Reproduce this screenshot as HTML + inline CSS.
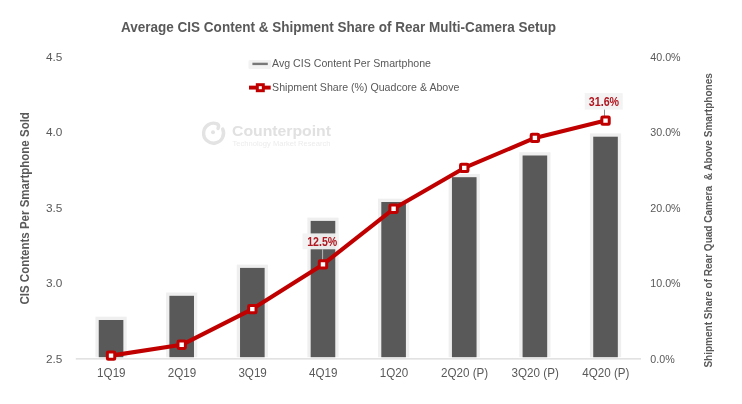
<!DOCTYPE html>
<html><head><meta charset="utf-8"><title>Average CIS Content &amp; Shipment Share of Rear Multi-Camera Setup</title>
<style>
html,body{margin:0;padding:0;background:#fff;}
body{width:742px;height:404px;overflow:hidden;}
svg{display:block;filter:blur(0.35px);}
text{font-family:"Liberation Sans",Arial,sans-serif;}
</style></head><body>
<svg width="742" height="404" viewBox="0 0 742 404">
<defs>
<filter id="glow" x="-50%" y="-50%" width="200%" height="200%"><feGaussianBlur stdDeviation="0.6"/></filter>
<filter id="blur1" x="-20%" y="-20%" width="140%" height="140%"><feGaussianBlur stdDeviation="0.6"/></filter>
</defs>
<rect width="742" height="404" fill="#fff"/>

<text x="121" y="31.5" font-size="14" font-weight="bold" fill="#595959" textLength="435" lengthAdjust="spacingAndGlyphs">Average CIS Content &amp; Shipment Share of Rear Multi-Camera Setup</text>
<g fill="none" stroke="#e3e3e3" opacity="1" filter="url(#blur1)">
<path d="M 222.66 128.97 A 10 10 0 1 1 217.02 123.8 Q 219.6 125.2 218 128.4" stroke-width="3.4" stroke-linecap="round"/>
</g>
<g fill="#e3e3e3" filter="url(#blur1)"><circle cx="213" cy="132.3" r="2"/></g>
<text x="232" y="135.5" font-size="15.3" font-weight="bold" fill="#e1e1e1" textLength="99" lengthAdjust="spacingAndGlyphs" filter="url(#blur1)">Counterpoint</text>
<text x="232.5" y="146" font-size="7" fill="#ececec" textLength="98" lengthAdjust="spacingAndGlyphs" filter="url(#blur1)">Technology Market Research</text>

<line x1="75.8" y1="358.8" x2="641" y2="358.8" stroke="#d9d9d9" stroke-width="1.2"/>
<rect x="95.45" y="316.70" width="31.20" height="40.50" fill="#efefef" filter="url(#glow)"/>
<rect x="166.09" y="292.50" width="31.20" height="64.70" fill="#efefef" filter="url(#glow)"/>
<rect x="236.73" y="264.60" width="31.20" height="92.60" fill="#efefef" filter="url(#glow)"/>
<rect x="307.37" y="217.60" width="31.20" height="139.60" fill="#efefef" filter="url(#glow)"/>
<rect x="378.01" y="198.70" width="31.20" height="158.50" fill="#efefef" filter="url(#glow)"/>
<rect x="448.65" y="173.90" width="31.20" height="183.30" fill="#efefef" filter="url(#glow)"/>
<rect x="519.29" y="152.20" width="31.20" height="205.00" fill="#efefef" filter="url(#glow)"/>
<rect x="589.93" y="133.40" width="31.20" height="223.80" fill="#efefef" filter="url(#glow)"/>
<rect x="98.75" y="320.00" width="24.60" height="37.20" fill="#595959"/>
<rect x="169.39" y="295.80" width="24.60" height="61.40" fill="#595959"/>
<rect x="240.03" y="267.90" width="24.60" height="89.30" fill="#595959"/>
<rect x="310.67" y="220.90" width="24.60" height="136.30" fill="#595959"/>
<rect x="381.31" y="202.00" width="24.60" height="155.20" fill="#595959"/>
<rect x="451.95" y="177.20" width="24.60" height="180.00" fill="#595959"/>
<rect x="522.59" y="155.50" width="24.60" height="201.70" fill="#595959"/>
<rect x="593.23" y="136.70" width="24.60" height="220.50" fill="#595959"/>
<text x="62.4" y="60.6" font-size="11.8" fill="#595959" text-anchor="end">4.5</text>
<text x="62.4" y="136.1" font-size="11.8" fill="#595959" text-anchor="end">4.0</text>
<text x="62.4" y="211.6" font-size="11.8" fill="#595959" text-anchor="end">3.5</text>
<text x="62.4" y="287.1" font-size="11.8" fill="#595959" text-anchor="end">3.0</text>
<text x="62.4" y="362.6" font-size="11.8" fill="#595959" text-anchor="end">2.5</text>
<text x="650.3" y="60.6" font-size="11.2" fill="#595959" textLength="30.33" lengthAdjust="spacingAndGlyphs">40.0%</text>
<text x="650.3" y="136.1" font-size="11.2" fill="#595959" textLength="30.33" lengthAdjust="spacingAndGlyphs">30.0%</text>
<text x="650.3" y="211.6" font-size="11.2" fill="#595959" textLength="30.33" lengthAdjust="spacingAndGlyphs">20.0%</text>
<text x="650.3" y="287.1" font-size="11.2" fill="#595959" textLength="30.33" lengthAdjust="spacingAndGlyphs">10.0%</text>
<text x="650.3" y="362.6" font-size="11.2" fill="#595959" textLength="24.38" lengthAdjust="spacingAndGlyphs">0.0%</text>
<text x="97.11" y="376.9" font-size="12" fill="#595959" textLength="28.47" lengthAdjust="spacingAndGlyphs">1Q19</text>
<text x="167.75" y="376.9" font-size="12" fill="#595959" textLength="28.47" lengthAdjust="spacingAndGlyphs">2Q19</text>
<text x="238.39" y="376.9" font-size="12" fill="#595959" textLength="28.47" lengthAdjust="spacingAndGlyphs">3Q19</text>
<text x="309.03" y="376.9" font-size="12" fill="#595959" textLength="28.47" lengthAdjust="spacingAndGlyphs">4Q19</text>
<text x="379.67" y="376.9" font-size="12" fill="#595959" textLength="28.47" lengthAdjust="spacingAndGlyphs">1Q20</text>
<text x="440.94" y="376.9" font-size="12" fill="#595959" textLength="47.22" lengthAdjust="spacingAndGlyphs">2Q20 (P)</text>
<text x="511.58" y="376.9" font-size="12" fill="#595959" textLength="47.22" lengthAdjust="spacingAndGlyphs">3Q20 (P)</text>
<text x="582.22" y="376.9" font-size="12" fill="#595959" textLength="47.22" lengthAdjust="spacingAndGlyphs">4Q20 (P)</text>
<text transform="translate(28.6,304.5) rotate(-90)" x="0" y="0" font-size="12" font-weight="bold" fill="#595959" textLength="192.4" lengthAdjust="spacingAndGlyphs">CIS Contents Per Smartphone Sold</text>
<text transform="translate(711.9,367.6) rotate(-90)" x="0" y="0" font-size="11" font-weight="bold" fill="#595959" textLength="294.4" lengthAdjust="spacingAndGlyphs" xml:space="preserve">Shipment Share of Rear Quad Camera  &amp; Above Smartphones</text>
<rect x="248.5" y="60" width="22.7" height="8.9" rx="1.5" fill="#f2f2f2"/>
<line x1="252.4" y1="63.9" x2="267.8" y2="63.9" stroke="#787878" stroke-width="2.4"/>
<text x="272.1" y="67.3" font-size="11" fill="#595959" textLength="158.88" lengthAdjust="spacingAndGlyphs">Avg CIS Content Per Smartphone</text>
<line x1="249" y1="87.6" x2="270.7" y2="87.6" stroke="#c00000" stroke-width="3.9"/>
<rect x="257.3" y="84.7" width="6" height="6" fill="#fff" stroke="#c00000" stroke-width="3"/>
<text x="272.1" y="91.0" font-size="11" fill="#595959" textLength="187.36" lengthAdjust="spacingAndGlyphs">Shipment Share (%) Quadcore &amp; Above</text>
<rect x="302.5" y="233.4" width="36.1" height="15.9" fill="#f2f2f2" opacity="0.95"/>
<line x1="322.6" y1="249.3" x2="322.6" y2="261" stroke="#d0d0d0" stroke-width="0.8"/>
<rect x="584.7" y="93.1" width="38.1" height="16.5" fill="#f2f2f2" opacity="0.95"/>
<line x1="604.5" y1="109.6" x2="604.5" y2="116" stroke="#7f7f7f" stroke-width="0.9"/>
<polyline points="111.0,355.6 181.7,344.8 252.3,309.1 323.0,264.4 393.6,208.8 464.2,167.9 534.9,137.9 605.5,120.6" fill="none" stroke="#c00000" stroke-width="4.1" stroke-linejoin="round"/>
<rect x="107.35" y="351.90" width="7.4" height="7.4" rx="0.9" fill="#fff" stroke="#c00000" stroke-width="3"/>
<rect x="177.99" y="341.10" width="7.4" height="7.4" rx="0.9" fill="#fff" stroke="#c00000" stroke-width="3"/>
<rect x="248.63" y="305.40" width="7.4" height="7.4" rx="0.9" fill="#fff" stroke="#c00000" stroke-width="3"/>
<rect x="319.27" y="260.70" width="7.4" height="7.4" rx="0.9" fill="#fff" stroke="#c00000" stroke-width="3"/>
<rect x="389.91" y="205.10" width="7.4" height="7.4" rx="0.9" fill="#fff" stroke="#c00000" stroke-width="3"/>
<rect x="460.55" y="164.20" width="7.4" height="7.4" rx="0.9" fill="#fff" stroke="#c00000" stroke-width="3"/>
<rect x="531.19" y="134.20" width="7.4" height="7.4" rx="0.9" fill="#fff" stroke="#c00000" stroke-width="3"/>
<rect x="601.83" y="116.90" width="7.4" height="7.4" rx="0.9" fill="#fff" stroke="#c00000" stroke-width="3"/>
<text x="307.2" y="245.7" font-size="12" font-weight="bold" fill="#b0161f" textLength="30" lengthAdjust="spacingAndGlyphs">12.5%</text>
<text x="588.8" y="105.7" font-size="12" font-weight="bold" fill="#b0161f" textLength="30.3" lengthAdjust="spacingAndGlyphs">31.6%</text>
</svg></body></html>
